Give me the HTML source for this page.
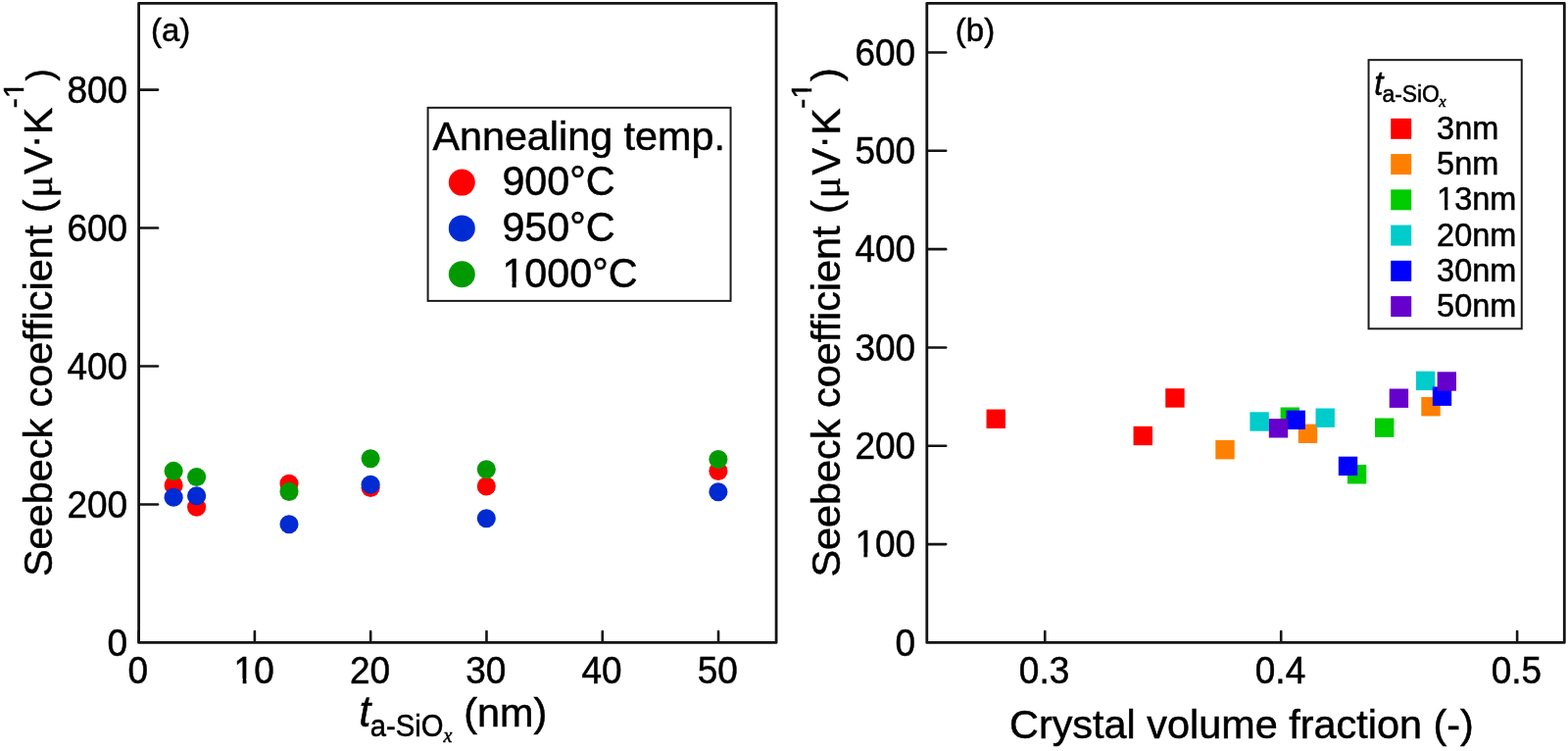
<!DOCTYPE html>
<html lang="en"><head><meta charset="utf-8"><title>Seebeck coefficient</title>
<style>html,body{margin:0;padding:0;background:#fff;}body{width:1600px;height:766px;overflow:hidden;}svg{display:block;}text{font-family:'Liberation Sans', Arial, Helvetica, sans-serif;fill:#000;stroke:#000;stroke-width:0.5px;}.se{font-family:'Liberation Serif', 'Times New Roman', serif;}.it{font-style:italic;}</style></head><body>
<svg width="1600" height="766" viewBox="0 0 1600 766">
<rect x="0" y="0" width="1600" height="766" fill="#fff"/>
<rect x="141.6" y="3.3" width="650.50" height="652.10" fill="none" stroke="#141414" stroke-width="2.8" stroke-linejoin="round"/>
<text transform="translate(130.10,669.00) scale(1,1.035)" font-size="37" text-anchor="end">0</text>
<line x1="142.2" y1="514.45" x2="161.00" y2="514.45" stroke="#141414" stroke-width="2.6" stroke-linecap="round"/>
<text transform="translate(130.10,527.75) scale(1,1.035)" font-size="37" text-anchor="end">200</text>
<line x1="142.2" y1="373.50" x2="161.00" y2="373.50" stroke="#141414" stroke-width="2.6" stroke-linecap="round"/>
<text transform="translate(130.10,386.80) scale(1,1.035)" font-size="37" text-anchor="end">400</text>
<line x1="142.2" y1="232.55" x2="161.00" y2="232.55" stroke="#141414" stroke-width="2.6" stroke-linecap="round"/>
<text transform="translate(130.10,245.85) scale(1,1.035)" font-size="37" text-anchor="end">600</text>
<line x1="142.2" y1="91.60" x2="161.00" y2="91.60" stroke="#141414" stroke-width="2.6" stroke-linecap="round"/>
<text transform="translate(130.10,104.90) scale(1,1.035)" font-size="37" text-anchor="end">800</text>
<line x1="141.60" y1="654.8" x2="141.60" y2="644.10" stroke="#141414" stroke-width="2.6" stroke-linecap="round"/>
<text transform="translate(140.90,696.80) scale(1,1.035)" font-size="37" text-anchor="middle">0</text>
<line x1="259.89" y1="654.8" x2="259.89" y2="644.10" stroke="#141414" stroke-width="2.6" stroke-linecap="round"/>
<text transform="translate(259.19,696.80) scale(1,1.035)" font-size="37" text-anchor="middle">10</text>
<line x1="378.18" y1="654.8" x2="378.18" y2="644.10" stroke="#141414" stroke-width="2.6" stroke-linecap="round"/>
<text transform="translate(377.48,696.80) scale(1,1.035)" font-size="37" text-anchor="middle">20</text>
<line x1="496.47" y1="654.8" x2="496.47" y2="644.10" stroke="#141414" stroke-width="2.6" stroke-linecap="round"/>
<text transform="translate(495.77,696.80) scale(1,1.035)" font-size="37" text-anchor="middle">30</text>
<line x1="614.76" y1="654.8" x2="614.76" y2="644.10" stroke="#141414" stroke-width="2.6" stroke-linecap="round"/>
<text transform="translate(614.06,696.80) scale(1,1.035)" font-size="37" text-anchor="middle">40</text>
<line x1="733.05" y1="654.8" x2="733.05" y2="644.10" stroke="#141414" stroke-width="2.6" stroke-linecap="round"/>
<text transform="translate(732.35,696.80) scale(1,1.035)" font-size="37" text-anchor="middle">50</text>
<text transform="translate(52.80,588.00) rotate(-90)" font-size="41.4">Seebeck coefficient <tspan x="370.7">(</tspan><tspan x="386.4" class="se" font-size="40.5">μ</tspan><tspan x="410.2">V</tspan><tspan x="436.8" dy="-3.8">·</tspan><tspan x="450.7" dy="3.8">K</tspan><tspan x="477.8" dy="-28.6" font-size="30">-1</tspan><tspan x="505.5" dy="28.6" font-size="37">)</tspan></text>
<text transform="translate(153.90,42.20)" font-size="33">(a)</text>
<text transform="translate(366.50,740.80) scale(1,1.06)" font-size="42.5" class="it">t</text>
<text transform="translate(377.80,750.90) scale(1,1.05)" font-size="29.2">a-SiO<tspan class="se it" font-size="20" dy="5.8">x</tspan></text>
<text transform="translate(473.20,740.80)" font-size="41.4">(nm)</text>
<circle cx="177.1" cy="495.1" r="9.55" fill="#ff0000"/>
<circle cx="200.6" cy="517.2" r="9.55" fill="#ff0000"/>
<circle cx="295.0" cy="493.2" r="9.55" fill="#ff0000"/>
<circle cx="378.1" cy="497.5" r="9.55" fill="#ff0000"/>
<circle cx="496.3" cy="495.9" r="9.55" fill="#ff0000"/>
<circle cx="732.9" cy="480.5" r="9.55" fill="#ff0000"/>
<circle cx="177.1" cy="507.3" r="9.55" fill="#002bd2"/>
<circle cx="200.6" cy="505.8" r="9.55" fill="#002bd2"/>
<circle cx="295.0" cy="534.8" r="9.55" fill="#002bd2"/>
<circle cx="378.1" cy="494.3" r="9.55" fill="#002bd2"/>
<circle cx="496.3" cy="528.8" r="9.55" fill="#002bd2"/>
<circle cx="732.9" cy="501.7" r="9.55" fill="#002bd2"/>
<circle cx="177.1" cy="480.4" r="9.55" fill="#009a00"/>
<circle cx="200.6" cy="486.5" r="9.55" fill="#009a00"/>
<circle cx="295.0" cy="501.5" r="9.55" fill="#009a00"/>
<circle cx="378.1" cy="467.7" r="9.55" fill="#009a00"/>
<circle cx="496.3" cy="478.7" r="9.55" fill="#009a00"/>
<circle cx="732.9" cy="468.6" r="9.55" fill="#009a00"/>
<rect x="436.6" y="109.85" width="308.95" height="197.05" fill="#fff" stroke="#1c1c1c" stroke-width="2.0"/>
<text transform="translate(441.40,152.60)" font-size="41.3">Annealing temp.</text>
<circle cx="471.3" cy="186.10" r="13.5" fill="#ff0000"/>
<text transform="translate(512.40,199.40) scale(1,1.04)" font-size="41.3">900°C</text>
<circle cx="471.3" cy="232.90" r="13.5" fill="#002bd2"/>
<text transform="translate(512.40,246.20) scale(1,1.04)" font-size="41.3">950°C</text>
<circle cx="471.3" cy="279.70" r="13.5" fill="#009a00"/>
<text transform="translate(512.40,293.00) scale(1,1.04)" font-size="41.3">1000°C</text>
<rect x="945.8" y="3.3" width="650.50" height="652.10" fill="none" stroke="#141414" stroke-width="2.8" stroke-linejoin="round"/>
<text transform="translate(934.10,669.00) scale(1,1.035)" font-size="37" text-anchor="end">0</text>
<line x1="946.4" y1="555.08" x2="965.20" y2="555.08" stroke="#141414" stroke-width="2.6" stroke-linecap="round"/>
<text transform="translate(934.10,568.38) scale(1,1.035)" font-size="37" text-anchor="end">100</text>
<line x1="946.4" y1="454.77" x2="965.20" y2="454.77" stroke="#141414" stroke-width="2.6" stroke-linecap="round"/>
<text transform="translate(934.10,468.07) scale(1,1.035)" font-size="37" text-anchor="end">200</text>
<line x1="946.4" y1="354.45" x2="965.20" y2="354.45" stroke="#141414" stroke-width="2.6" stroke-linecap="round"/>
<text transform="translate(934.10,367.75) scale(1,1.035)" font-size="37" text-anchor="end">300</text>
<line x1="946.4" y1="254.13" x2="965.20" y2="254.13" stroke="#141414" stroke-width="2.6" stroke-linecap="round"/>
<text transform="translate(934.10,267.43) scale(1,1.035)" font-size="37" text-anchor="end">400</text>
<line x1="946.4" y1="153.82" x2="965.20" y2="153.82" stroke="#141414" stroke-width="2.6" stroke-linecap="round"/>
<text transform="translate(934.10,167.12) scale(1,1.035)" font-size="37" text-anchor="end">500</text>
<line x1="946.4" y1="53.50" x2="965.20" y2="53.50" stroke="#141414" stroke-width="2.6" stroke-linecap="round"/>
<text transform="translate(934.10,66.80) scale(1,1.035)" font-size="37" text-anchor="end">600</text>
<line x1="1066.26" y1="654.8" x2="1066.26" y2="644.10" stroke="#141414" stroke-width="2.6" stroke-linecap="round"/>
<text transform="translate(1065.56,696.80) scale(1,1.035)" font-size="37" text-anchor="middle">0.3</text>
<line x1="1307.20" y1="654.8" x2="1307.20" y2="644.10" stroke="#141414" stroke-width="2.6" stroke-linecap="round"/>
<text transform="translate(1306.50,696.80) scale(1,1.035)" font-size="37" text-anchor="middle">0.4</text>
<line x1="1548.12" y1="654.8" x2="1548.12" y2="644.10" stroke="#141414" stroke-width="2.6" stroke-linecap="round"/>
<text transform="translate(1547.42,696.80) scale(1,1.035)" font-size="37" text-anchor="middle">0.5</text>
<text transform="translate(856.90,588.60) rotate(-90)" font-size="41.4">Seebeck coefficient <tspan x="370.7">(</tspan><tspan x="386.4" class="se" font-size="40.5">μ</tspan><tspan x="410.2">V</tspan><tspan x="436.8" dy="-3.8">·</tspan><tspan x="450.7" dy="3.8">K</tspan><tspan x="477.8" dy="-28.6" font-size="30">-1</tspan><tspan x="505.7" dy="28.6" font-size="41.4">)</tspan></text>
<text transform="translate(974.80,42.20)" font-size="33">(b)</text>
<text transform="translate(1030.00,753.10)" font-size="41.4">Crystal volume fraction (-)</text>
<rect x="1006.55" y="417.55" width="19.4" height="19.4" fill="#ff0000"/>
<rect x="1156.55" y="434.80" width="19.4" height="19.4" fill="#ff0000"/>
<rect x="1189.25" y="396.25" width="19.4" height="19.4" fill="#ff0000"/>
<rect x="1240.30" y="449.00" width="19.4" height="19.4" fill="#ff8000"/>
<rect x="1324.80" y="432.60" width="19.4" height="19.4" fill="#ff8000"/>
<rect x="1450.30" y="405.00" width="19.4" height="19.4" fill="#ff8000"/>
<rect x="1306.60" y="415.50" width="19.4" height="19.4" fill="#00cc00"/>
<rect x="1374.90" y="474.10" width="19.4" height="19.4" fill="#00cc00"/>
<rect x="1403.00" y="426.50" width="19.4" height="19.4" fill="#00cc00"/>
<rect x="1275.40" y="420.30" width="19.4" height="19.4" fill="#00cccc"/>
<rect x="1342.50" y="416.50" width="19.4" height="19.4" fill="#00cccc"/>
<rect x="1444.90" y="378.70" width="19.4" height="19.4" fill="#00cccc"/>
<rect x="1312.50" y="418.60" width="19.4" height="19.4" fill="#0000ff"/>
<rect x="1365.80" y="465.70" width="19.4" height="19.4" fill="#0000ff"/>
<rect x="1461.80" y="394.50" width="19.4" height="19.4" fill="#0000ff"/>
<rect x="1294.80" y="427.10" width="19.4" height="19.4" fill="#6600cc"/>
<rect x="1417.70" y="396.50" width="19.4" height="19.4" fill="#6600cc"/>
<rect x="1466.60" y="379.30" width="19.4" height="19.4" fill="#6600cc"/>
<rect x="1396.55" y="61.15" width="156.20" height="274.15" fill="#fff" stroke="#1c1c1c" stroke-width="2.0"/>
<text transform="translate(1402.30,96.60) scale(1,1.05)" font-size="33" class="it">t</text>
<text transform="translate(1410.40,103.90) scale(1,1.04)" font-size="22.9">a-SiO<tspan class="se it" font-size="16.5" dx="-0.7" dy="5.2">x</tspan></text>
<rect x="1419.20" y="120.80" width="21" height="21" fill="#ff0000"/>
<text transform="translate(1466.10,141.80) scale(1,1.02)" font-size="32.5">3nm</text>
<rect x="1419.20" y="157.06" width="21" height="21" fill="#ff8000"/>
<text transform="translate(1466.10,178.04) scale(1,1.02)" font-size="32.5">5nm</text>
<rect x="1419.20" y="193.32" width="21" height="21" fill="#00cc00"/>
<text transform="translate(1466.10,214.28) scale(1,1.02)" font-size="32.5">13nm</text>
<rect x="1419.20" y="229.58" width="21" height="21" fill="#00cccc"/>
<text transform="translate(1466.10,250.52) scale(1,1.02)" font-size="32.5">20nm</text>
<rect x="1419.20" y="265.84" width="21" height="21" fill="#0000ff"/>
<text transform="translate(1466.10,286.76) scale(1,1.02)" font-size="32.5">30nm</text>
<rect x="1419.20" y="302.10" width="21" height="21" fill="#6600cc"/>
<text transform="translate(1466.10,323.00) scale(1,1.02)" font-size="32.5">50nm</text>
<g transform="translate(259.19,696.80) scale(1,1.035)" fill="#fff"><rect x="-19.25" y="-4.66" width="7.74" height="6.16"/><rect x="-7.75" y="-4.66" width="7.45" height="6.16"/></g>
<g transform="translate(52.80,588.00) rotate(-90)" fill="#fff"><rect x="488.57" y="-32.74" width="6.51" height="5.64"/><rect x="498.23" y="-32.74" width="6.27" height="5.64"/></g>
<g transform="translate(512.40,293.00) scale(1,1.04)" fill="#fff"><rect x="1.65" y="-4.99" width="8.49" height="6.49"/><rect x="14.28" y="-4.99" width="8.17" height="6.49"/></g>
<g transform="translate(934.10,568.38) scale(1,1.035)" fill="#fff"><rect x="-60.40" y="-4.66" width="7.74" height="6.16"/><rect x="-48.90" y="-4.66" width="7.45" height="6.16"/></g>
<g transform="translate(856.90,588.60) rotate(-90)" fill="#fff"><rect x="488.57" y="-32.74" width="6.51" height="5.64"/><rect x="498.23" y="-32.74" width="6.27" height="5.64"/></g>
<g transform="translate(1466.10,214.28) scale(1,1.02)" fill="#fff"><rect x="0.98" y="-4.33" width="6.95" height="5.83"/><rect x="11.29" y="-4.33" width="6.69" height="5.83"/></g>
</svg></body></html>
